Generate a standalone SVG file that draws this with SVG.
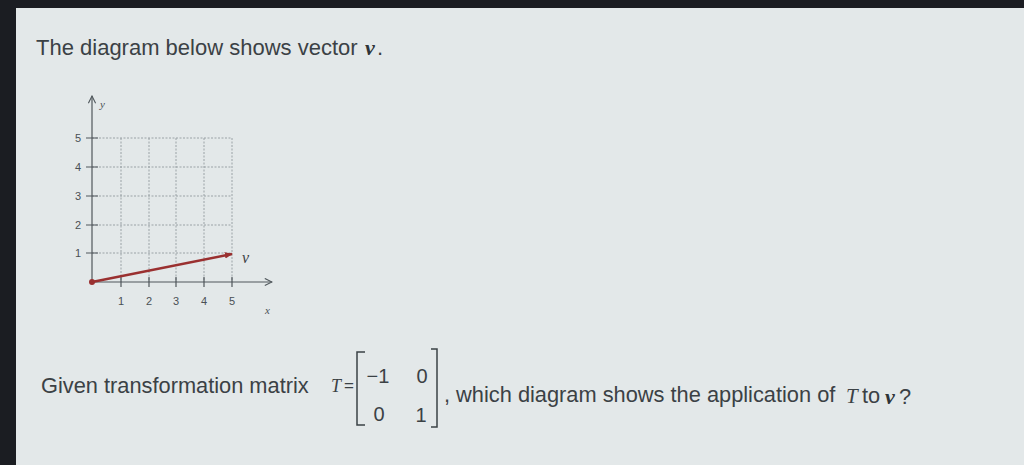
<svg xmlns="http://www.w3.org/2000/svg" width="1024" height="465" viewBox="0 0 1024 465">
<defs>
<style>
.txt{font-family:"Liberation Sans",Arial,sans-serif;fill:#3b4145}
.tick{font-family:"Liberation Sans",Arial,sans-serif;font-size:11px;fill:#4a5055}
.grid{stroke:#9aa2a6;stroke-width:1;stroke-dasharray:2 1.5;fill:none}
.axis{stroke:#50575c;stroke-width:1.2;fill:none}
.it{font-family:"Liberation Serif","Times New Roman",serif;font-style:italic}
.bv{font-family:"Liberation Serif","Times New Roman",serif;font-style:italic;font-weight:bold;fill:#2e3438}
</style>
<marker id="ax" viewBox="0 0 10 10" refX="9" refY="5" markerWidth="9" markerHeight="9" orient="auto" markerUnits="userSpaceOnUse">
<path d="M1,1 L9,5 L1,9" fill="none" stroke="#50575c" stroke-width="1.2"/>
</marker>
<marker id="vh" viewBox="0 0 10 10" refX="9" refY="5" markerWidth="8" markerHeight="8" orient="auto" markerUnits="userSpaceOnUse">
<path d="M0,1 L10,5 L0,9 Z" fill="#9a3030"/>
</marker>
</defs>
<rect x="0" y="0" width="1024" height="465" fill="#1b1d22"/>
<rect x="16" y="8" width="1008" height="457" fill="#e3e8e9"/>
<g id="title">
<text class="txt" x="36" y="55" font-size="22">The diagram below shows vector</text>
<text class="bv" x="365" y="55" font-size="22">v</text>
<text class="txt" x="377" y="55" font-size="22">.</text>
</g>
<g id="graph">
<g id="grid">
<path class="grid" d="M121,138V282M149,138V282M176,138V282M204,138V282M232,138V282"/>
<path class="grid" d="M92,138H232M92,167H232M92,196H232M92,225H232M92,253H232"/>
</g>
<g id="axes">
<line class="axis" x1="92" y1="282" x2="92" y2="96" marker-end="url(#ax)"/>
<line class="axis" x1="92" y1="282" x2="272" y2="282" marker-end="url(#ax)"/>
<path class="axis" d="M86,138H98M86,167H98M86,196H98M86,225H98M86,253H98"/>
<path class="axis" d="M121,277V287M149,277V287M176,277V287M204,277V287M232,277V287"/>
</g>
<g id="ticklabels">
<text class="tick" x="81" y="142" text-anchor="end">5</text>
<text class="tick" x="81" y="171" text-anchor="end">4</text>
<text class="tick" x="81" y="200" text-anchor="end">3</text>
<text class="tick" x="81" y="229" text-anchor="end">2</text>
<text class="tick" x="81" y="257" text-anchor="end">1</text>
<text class="tick" x="121" y="305" text-anchor="middle">1</text>
<text class="tick" x="149" y="305" text-anchor="middle">2</text>
<text class="tick" x="176" y="305" text-anchor="middle">3</text>
<text class="tick" x="204" y="305" text-anchor="middle">4</text>
<text class="tick" x="232" y="305" text-anchor="middle">5</text>
<text class="tick it" x="100" y="108" font-size="12">y</text>
<text class="tick it" x="265" y="314" font-size="12">x</text>
</g>
<g id="vector">
<line x1="92" y1="282" x2="232" y2="254" stroke="#9a3030" stroke-width="2.4" marker-end="url(#vh)"/>
<circle cx="92" cy="282" r="3" fill="#9a3030"/>
<text class="it" x="242" y="263" font-size="16" fill="#3b4145">v</text>
</g>
</g>
<g id="question">
<text class="txt" x="41" y="393" font-size="21.8">Given transformation matrix</text>
<text class="it" x="331" y="392" font-size="18" fill="#3b4145">T</text>
<text class="txt" x="344" y="391" font-size="17">=</text>
<path d="M365,352H357V425H365" fill="none" stroke="#3b4145" stroke-width="1.5"/>
<path d="M431,349H437V427H431" fill="none" stroke="#3b4145" stroke-width="1.5"/>
<text class="txt" x="378" y="383" font-size="20" text-anchor="middle">−1</text>
<text class="txt" x="422" y="383" font-size="20" text-anchor="middle">0</text>
<text class="txt" x="379" y="421" font-size="20" text-anchor="middle">0</text>
<text class="txt" x="421" y="422" font-size="20" text-anchor="middle">1</text>
<text class="txt" x="444" y="402" font-size="21.8">, which diagram shows the application of</text>
<text class="it" x="846" y="403" font-size="21" fill="#3b4145">T</text>
<text class="txt" x="862" y="403" font-size="21.8">to</text>
<text class="bv" x="885" y="404" font-size="22">v</text>
<text class="txt" x="899" y="404" font-size="21.8">?</text>
</g>
</svg>
